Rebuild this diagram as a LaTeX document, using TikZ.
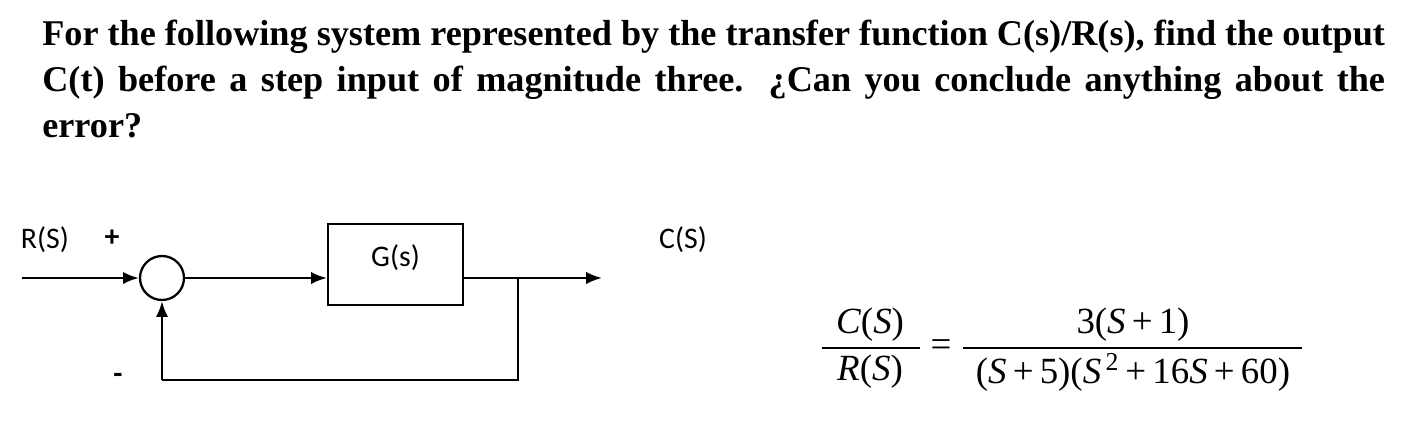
\documentclass[tikz,border=0pt]{standalone}
\usepackage{fontspec}
\usetikzlibrary{arrows.meta}
\setmainfont{Liberation Serif}
\newfontfamily\calib{Carlito}
\begin{document}
\begin{tikzpicture}[x=0.02cm,y=-0.02cm,
  lbl/.style={font=\calib\fontsize{17}{20}\selectfont},
  eq/.style={font=\fontsize{21}{24}\selectfont,inner sep=0pt},
  wire/.style={line width=1.3pt},
  arr/.style={wire,-{Latex[length=9pt,width=7pt]}}]
\useasboundingbox (0,0) rectangle (1406,433);
\node[anchor=north west,text width=26.86cm,align=justify,inner sep=0pt,font=\bfseries\fontsize{20.6}{26}\selectfont] (title) at (42,20)
 {For the following system represented by the transfer function C(s)/R(s), find the output C(t) before a step input of magnitude three. ¿Can you conclude anything about the error?};
\node[lbl] (rs) at (45,240) {R(S)};
\node[lbl] (plus) at (112,238) {\textbf{+}};
\node[lbl] (minus) at (118,378) {\textbf{-}};
\node[lbl] (cs) at (683,240) {C(S)};
\node[circle,draw,wire,minimum size=0.88cm,inner sep=0pt] (sum) at (162,278) {};
\node[draw,wire,minimum width=2.7cm,minimum height=1.62cm,inner sep=0pt] (g) at (395.5,264.5) {};
\node[lbl] (gl) at (395.5,258) {G(s)};
\coordinate (in) at (22,278);
\coordinate (out) at (602,278);
\coordinate (tap) at (518,278);
\coordinate (fb1) at (518,380);
\coordinate (fb2) at (162,380);
\draw[arr] (in) -- (sum.west);
\draw[arr] (sum.east) -- (g.west |- sum.east);
\draw[arr] (g.east |- sum.east) -- (out);
\draw[wire] (tap) -- (fb1) -- (fb2);
\draw[arr] (fb2) -- (sum.south);
\node[eq] (cn) at (870,325) {\textit{C}(\textit{S})};
\node[eq] (rd) at (870,372) {\textit{R}(\textit{S})};
\draw[line width=0.8pt] (822,348) -- (920,348);
\node[eq] (eqs) at (941,348) {=};
\node[eq] (num) at (1133,325) {3(\textit{S}\,+\,1)};
\node[eq] (den) at (1133,372) {(\textit{S}\,+\,5)(\textit{S}\textsuperscript{\,2}\,+\,16\textit{S}\,+\,60)};
\draw[line width=0.8pt] (963,348) -- (1302,348);
\end{tikzpicture}
\end{document}
